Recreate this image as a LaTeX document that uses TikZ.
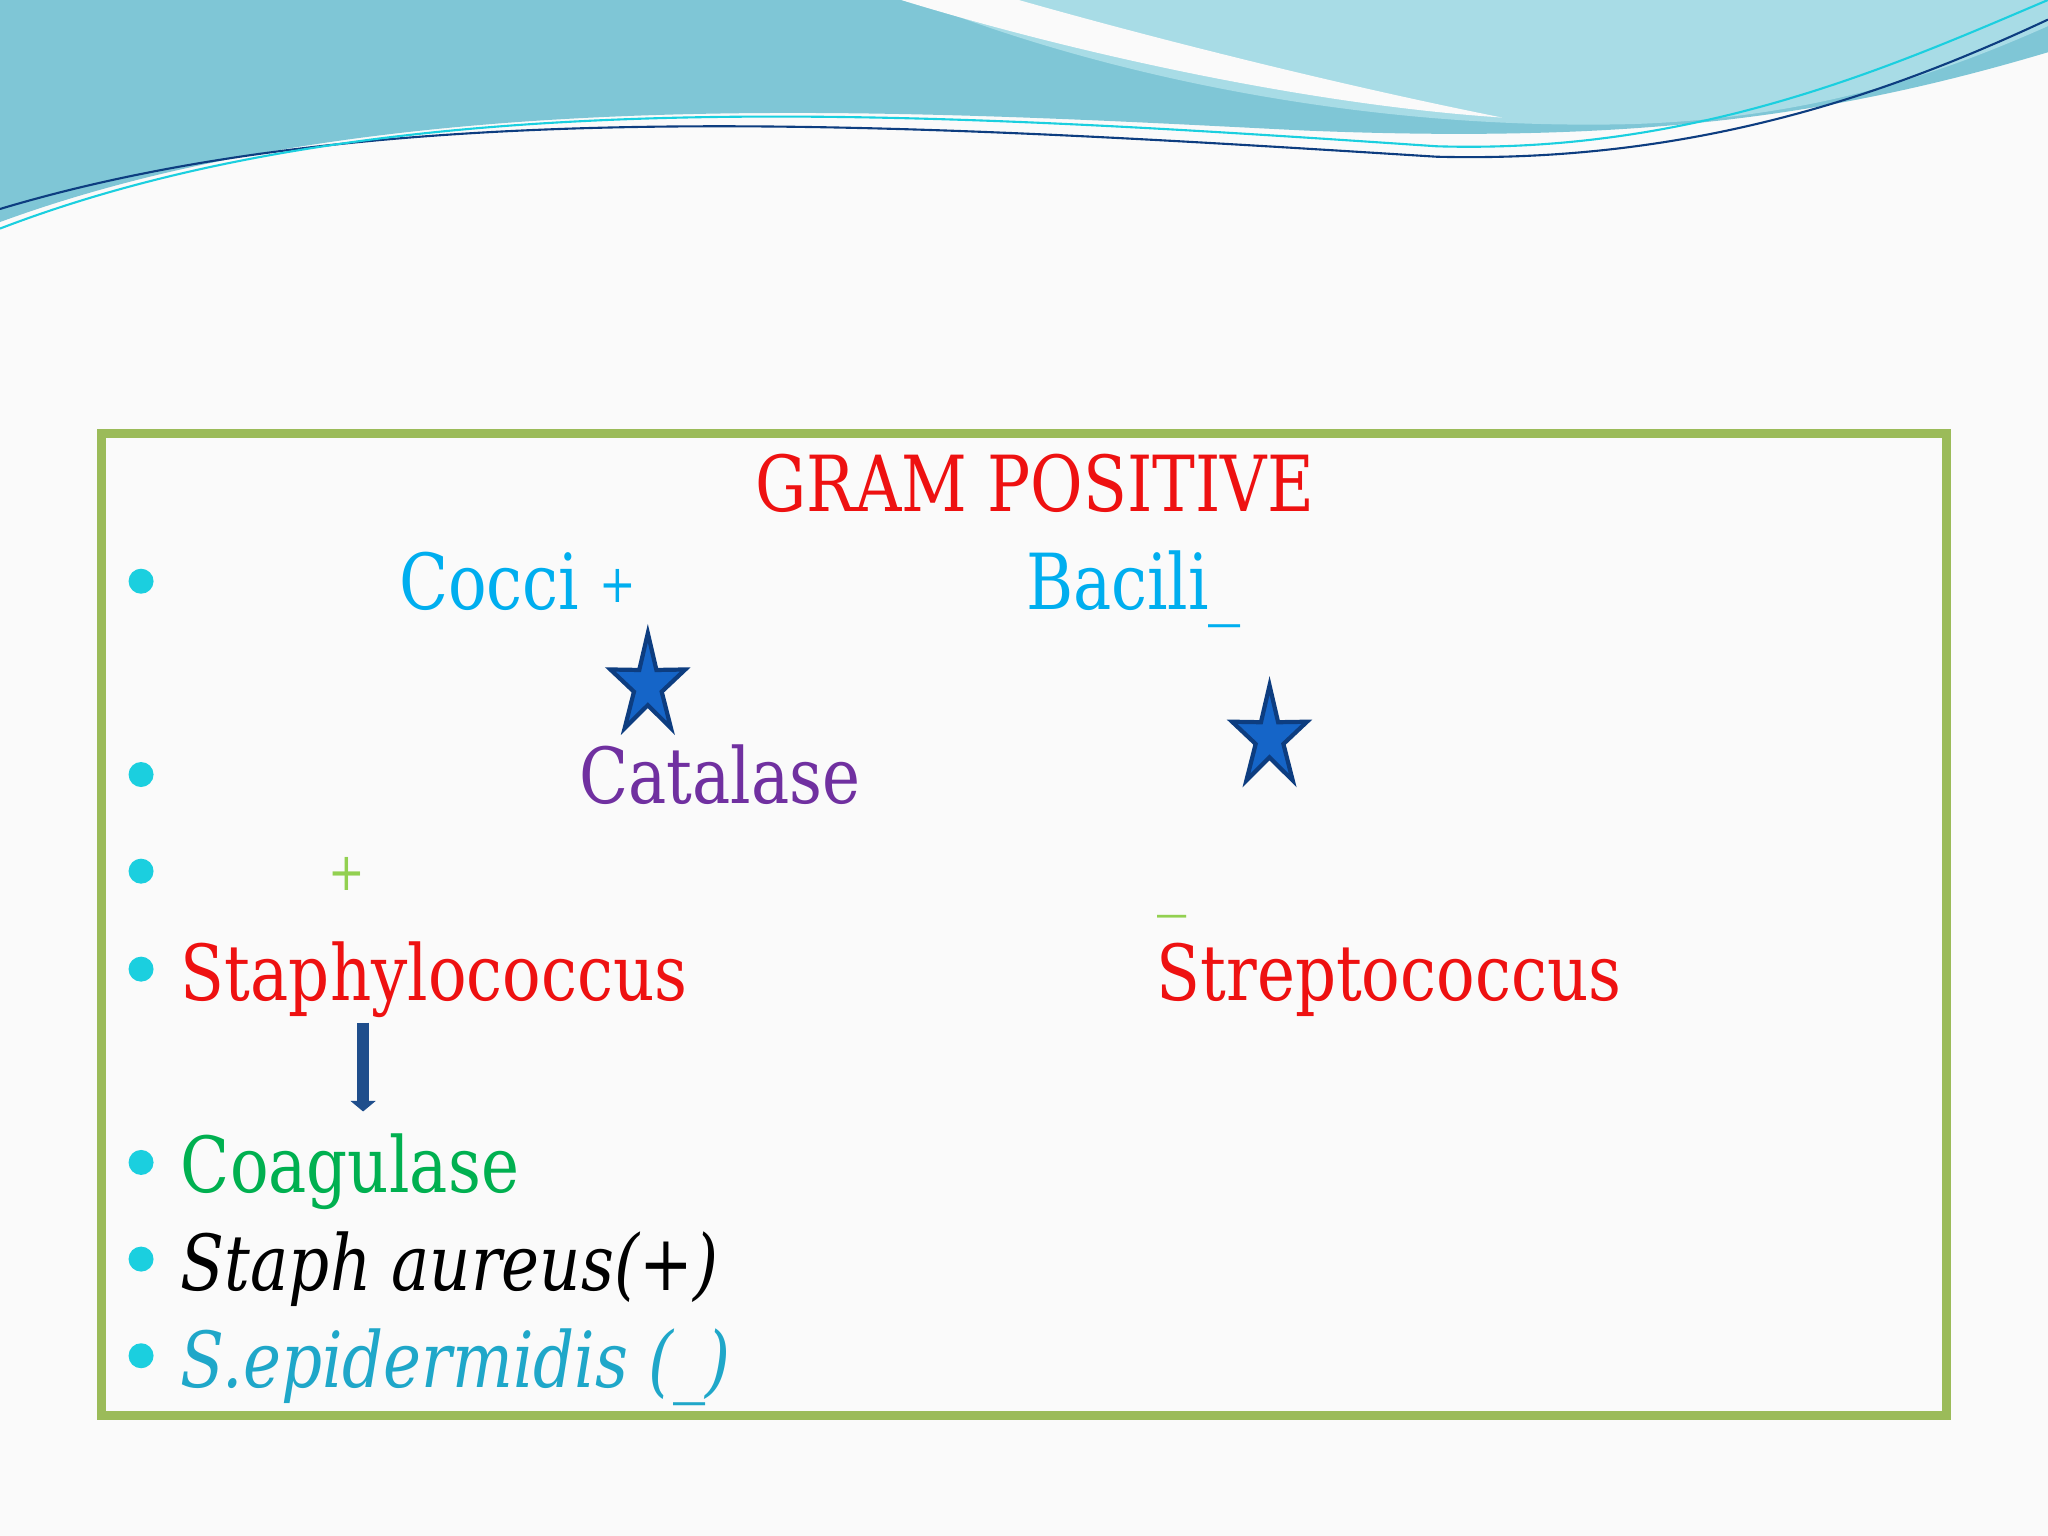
\documentclass[tikz,border=0pt]{standalone}
\usepackage{fontspec}
\setmainfont{DejaVu Serif}[FakeStretch=0.83]
\usetikzlibrary{shapes.geometric,arrows.meta}
\definecolor{frame}{HTML}{9BBB59}
\definecolor{redt}{HTML}{EE1111}
\definecolor{cyant}{HTML}{00AEEF}
\definecolor{purp}{HTML}{7030A0}
\definecolor{greent}{HTML}{00B050}
\definecolor{lgreen}{HTML}{92D050}
\definecolor{sepi}{HTML}{1FA7C9}
\definecolor{bul}{HTML}{1BCFDF}
\definecolor{starf}{HTML}{1565C8}
\definecolor{stard}{HTML}{0D3D80}
\definecolor{wave1}{HTML}{7FC6D6}
\definecolor{wave2}{HTML}{A8DCE6}
\definecolor{arr}{HTML}{1F4E8C}
\tikzset{
 txt/.style={anchor=base west,inner sep=0pt,font=\fontsize{22}{26}\selectfont},
 bulletdot/.style={circle,fill=bul,inner sep=0pt,minimum size=0.25cm},
 starbox/.style={star,star points=5,star point ratio=2.7,fill=starf,draw=stard,line width=1.2pt,inner sep=0pt,xscale=0.75,transform shape}
}
\begin{document}
\begin{tikzpicture}[x=0.0130612cm,y=-0.0130612cm]
\fill[white!96!gray] (0,0) rectangle (1568,1176);
\useasboundingbox (0,0) rectangle (1568,1176);
% header waves
\fill[wave1] (0,0) -- (1568,0) -- (1568,40) .. controls (1400,90) and (1250,110) .. (1000,100) .. controls (700,85) and (300,60) .. (0,170) -- cycle;
\fill[wave2] (700,0) .. controls (850,60) and (1050,100) .. (1250,95) .. controls (1400,90) and (1500,50) .. (1568,20) -- (1568,0) -- cycle;
\fill[white!96!gray] (690,0) .. controls (820,40) and (1000,80) .. (1150,90) .. controls (1000,60) and (850,20) .. (780,0) -- cycle;
\draw[stard,line width=0.6pt] (0,160) .. controls (300,70) and (700,95) .. (1100,120) .. controls (1300,125) and (1450,70) .. (1568,15);
\draw[bul,line width=0.6pt] (0,175) .. controls (300,60) and (700,85) .. (1100,112) .. controls (1300,118) and (1450,50) .. (1568,0);
% frame
\draw[frame,line width=2.5pt] (78,332) rectangle (1490,1084);
% title
\node[txt,text=redt] (title) at (578,392) {GRAM POSITIVE};
% bullets
\foreach \y/\n in {445/b1,593/b2,667/b3,742/b4,890/b5,964/b6,1038/b7}
  \node[bulletdot] (\n) at (108,\y) {};
\node[txt,text=cyant] (cocci) at (305,467) {Cocci \fontsize{15}{18}\selectfont\raisebox{2pt}{+}};
\node[txt,text=cyant] (bacili) at (785,467) {Bacili\_};
\node[starbox,minimum size=1.05cm] (s1) at (496,525) {};
\node[starbox,minimum size=1.05cm] (s2) at (972,565) {};
\node[txt,text=purp] (cat) at (443,615) {Catalase};
\node[txt,text=lgreen,font=\fontsize{15}{16}\selectfont] (plus) at (251,682) {+};
\node[txt,text=lgreen,font=\fontsize{20}{22}\selectfont] (minus) at (886,690) {\_};
\node[txt,text=redt] (staph) at (138,766) {Staphylococcus};
\node[txt,text=redt] (strep) at (885,766) {Streptococcus};
\coordinate (a1) at (278,783);
\coordinate (a2) at (278,851);
\draw[arr,line width=3.5pt,-{Triangle[length=3pt,width=7pt]}] (a1) -- (a2);
\node[txt,text=greent] (coag) at (138,913) {Coagulase};
\node[txt,text=black,font=\fontsize{22}{26}\selectfont\itshape] (aur) at (138,988) {Staph aureus(+)};
\node[txt,text=sepi,font=\fontsize{22}{26}\selectfont\itshape] (epi) at (138,1062) {S.epidermidis (\_)};
\end{tikzpicture}
\end{document}
